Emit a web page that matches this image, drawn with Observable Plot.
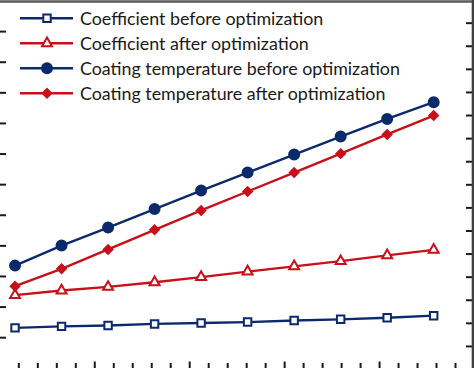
<!DOCTYPE html>
<html><head><meta charset="utf-8">
<script src="https://cdn.jsdelivr.net/npm/d3@7"></script>
<script src="https://cdn.jsdelivr.net/npm/@observablehq/plot@0.6"></script>
<style>html,body{margin:0;padding:0;background:#fff;overflow:hidden}</style>
</head><body><div id="chart"></div>
<script>
// x positions of the 10 measurement points (bottom-axis units)
const xValues = [1.6, 6.5, 11.4, 16.3, 21.2, 26.1, 31.0, 35.9, 40.8, 45.7];
// left axis (coefficient)
const coefBefore = [0.132, 0.137, 0.140, 0.145, 0.148, 0.151, 0.156, 0.160, 0.165, 0.172];
const coefAfter  = [0.239, 0.254, 0.266, 0.281, 0.298, 0.316, 0.333, 0.350, 0.369, 0.387];
// right axis (coating temperature)
const tempBefore = [450, 537, 615, 695, 775, 853, 931, 1009, 1085, 1158];
const tempAfter  = [361, 436, 520, 605, 689, 771, 853, 935, 1018, 1100];
const seriesNames = [
  "Coefficient before optimization",
  "Coefficient after optimization",
  "Coating temperature before optimization",
  "Coating temperature after optimization"
];
const leftTicks = [0.1, 0.2, 0.3, 0.4, 0.5, 0.6, 0.7, 0.8, 0.9, 1.0, 1.1];
const rightTicks = [100, 200, 300, 400, 500, 600, 700, 800, 900, 1000, 1100, 1200, 1300, 1400, 1500];
const xMajorTicks = [10, 20, 30, 40];
const xMinorTicks = [2, 4, 6, 8, 12, 14, 16, 18, 22, 24, 26, 28, 32, 34, 36, 38, 42, 44, 46, 48];

const NAVY = "#0c2a6b", RED = "#c8101a", INK = "#1a1a1a";
const W = 474, H = 368;
// right axis values -> left axis units
const rightToLeft = d3.scaleLinear().domain([0, 1600]).range([-0.004, 1.203]);

const series = [
  {name: seriesNames[0], values: coefBefore, axis: "left", color: NAVY, symbol: "square", fill: "white", r: 4.2},
  {name: seriesNames[1], values: coefAfter, axis: "left", color: RED, symbol: "triangle", fill: "white", r: 3.7},
  {name: seriesNames[2], values: tempBefore, axis: "right", color: NAVY, symbol: "circle", fill: NAVY, r: 5},
  {name: seriesNames[3], values: tempAfter, axis: "right", color: RED, symbol: "diamond2", fill: RED, r: 3.9}
];

const seriesMarks = [];
for (const s of series) {
  const rows = xValues.map((x, i) => ({x, y: s.axis === "left" ? s.values[i] : rightToLeft(s.values[i])}));
  seriesMarks.push(Plot.line(rows, {x: "x", y: "y", stroke: s.color, strokeWidth: 2.4}));
  seriesMarks.push(Plot.dot(rows, {x: "x", y: "y", symbol: s.symbol, r: s.r, stroke: s.color, fill: s.fill, strokeWidth: 2}));
}

const plot = Plot.plot({
  width: W, height: H,
  marginTop: 0, marginRight: 0, marginBottom: 0, marginLeft: 0,
  x: {domain: [0, 50], range: [-0.65, 474.0], axis: null},
  y: {domain: [0, 1.2], range: [367.8, 0.5], axis: null},
  style: {background: "#fff"},
  marks: [
    Plot.tickY(leftTicks, {y: d => d, insetRight: W - 6, stroke: INK, strokeWidth: 2}),
    Plot.tickY(rightTicks, {y: d => rightToLeft(d), insetLeft: 466, insetRight: 2, stroke: INK, strokeWidth: 2}),
    Plot.tickX(xMinorTicks, {x: d => d, insetTop: H - 5, stroke: INK, strokeWidth: 2}),
    Plot.tickX(xMajorTicks, {x: d => d, insetTop: H - 6.5, stroke: INK, strokeWidth: 2}),
    Plot.ruleY([1.2], {stroke: "#595959", strokeWidth: 2.5, dy: 0.6}),
    Plot.ruleX([50], {stroke: "#404040", strokeWidth: 3, dx: -1.3}),
    ...seriesMarks
  ]
});
document.getElementById("chart").appendChild(plot);

// legend inside the plot area (top-left)
const symbolTypes = {square: d3.symbolSquare, triangle: d3.symbolTriangle, circle: d3.symbolCircle, diamond2: d3.symbolDiamond2};
const lg = d3.select(plot).append("g").attr("class", "legend").attr("text-anchor", "start");
const texts = [];
series.forEach((s, i) => {
  const y = 18.3 + 25 * i;
  lg.append("line").attr("x1", 20).attr("x2", 73).attr("y1", y).attr("y2", y)
    .attr("stroke", s.color).attr("stroke-width", 2.4);
  lg.append("path").attr("d", d3.symbol(symbolTypes[s.symbol], Math.PI * s.r * s.r)())
    .attr("transform", `translate(47,${y})`)
    .attr("fill", s.fill).attr("stroke", s.color).attr("stroke-width", 2);
  const t = lg.append("text").attr("x", 80).attr("y", y).attr("dy", "0.36em")
    .attr("text-anchor", "start")
    .attr("fill", INK).attr("font-family", "Lato, 'Open Sans', sans-serif")
    .attr("font-size", 16).text(s.name);
  texts.push(t);
});
// fit font size so the longest label spans like the reference (~320px)
const longest = texts[2].node().getComputedTextLength();
if (longest > 0) {
  const fs = 16 * 320 / longest;
  texts.forEach(t => t.attr("font-size", fs.toFixed(2)));
}
</script>
</body></html>
